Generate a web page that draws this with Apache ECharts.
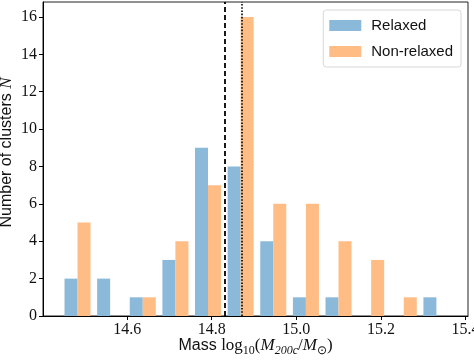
<!DOCTYPE html>
<html>
<head>
<meta charset="utf-8">
<script src="https://cdn.jsdelivr.net/npm/echarts@6/dist/echarts.min.js"></script>
<style>html,body{margin:0;padding:0;background:#fff}#c{width:474px;height:361px}</style>
</head>
<body>
<div id="c"></div>
<script>
const binCenters = [14.4826, 14.5598, 14.6369, 14.7141, 14.7912, 14.8684, 14.9455, 15.0227, 15.0998, 15.1770, 15.2541, 15.3313];
const relaxed    = [2, 2, 1, 3, 9, 8, 4, 1, 1, 0, 0, 1];
const nonRelaxed = [5, 0, 1, 4, 7, 16, 6, 6, 4, 3, 1, 0];
const xTicks = [14.6, 14.8, 15.0, 15.2, 15.4];
const yTicks = [0, 2, 4, 6, 8, 10, 12, 14, 16];
const dashedLineX = 14.8298;
const dottedLineX = 14.8669;

const serif = 'Liberation Serif';
const sans = 'Liberation Sans';

const chart = echarts.init(document.getElementById('c'), null, {renderer: 'canvas'});
chart.setOption({
  animation: false,
  grid: {left: 43, right: 6, top: 2, bottom: 45, containLabel: false, outerBoundsMode: 'none',
    show: true, borderColor: '#222', borderWidth: 1, backgroundColor: 'transparent'},
  legend: {
    right: 13, top: 10,
    orient: 'vertical',
    itemWidth: 32, itemHeight: 11, itemGap: 11,
    padding: [8, 8, 8, 6],
    borderColor: '#d8d8d8', borderWidth: 1, borderRadius: 3,
    textStyle: {fontFamily: sans, fontSize: 15, color: '#111', padding: [0, 0, 0, 5]},
    data: [{name: 'Relaxed', icon: 'rect'}, {name: 'Non-relaxed', icon: 'rect'}]
  },
  xAxis: {
    type: 'value', min: 14.401, max: 15.406,
    splitLine: {show: false},
    axisLine: {show: true, onZero: false, lineStyle: {color: '#000', width: 1}},
    axisTick: {show: true, length: 4, customValues: xTicks, lineStyle: {color: '#000'}},
    axisLabel: {customValues: xTicks, fontFamily: serif, fontSize: 16, color: '#111', margin: 6,
      formatter: v => v.toFixed(1)},
    name: '{s|Mass }{r|log}{sub|10}{r|(}{i|M}{subi|200c}{r|/}{i|M}{sub|⊙}{r|)}',
    nameLocation: 'middle', nameGap: 19, nameMoveOverlap: false,
    nameTextStyle: {
      rich: {
        s: {fontFamily: sans, fontSize: 16, color: '#111', lineHeight: 22},
        r: {fontFamily: serif, fontSize: 17, color: '#111', lineHeight: 22},
        i: {fontFamily: serif, fontSize: 17, fontStyle: 'italic', color: '#111', lineHeight: 22},
        sub: {fontFamily: serif, fontSize: 12, color: '#111', lineHeight: 12, verticalAlign: 'bottom'},
        subi: {fontFamily: serif, fontSize: 12, fontStyle: 'italic', color: '#111', lineHeight: 12, verticalAlign: 'bottom'}
      }
    }
  },
  yAxis: {
    type: 'value', min: 0, max: 16.8,
    splitLine: {show: false},
    axisLine: {show: true, lineStyle: {color: '#000', width: 1}},
    axisTick: {show: true, length: 4, customValues: yTicks, lineStyle: {color: '#000'}},
    axisLabel: {customValues: yTicks, fontFamily: serif, fontSize: 16, color: '#111', margin: 6},
    name: '{s|Number of clusters }{i|N}',
    nameLocation: 'middle', nameGap: 28, nameRotate: 90, nameMoveOverlap: false,
    nameTextStyle: {
      rich: {
        s: {fontFamily: sans, fontSize: 16, color: '#111', padding: [0, 0, 0, 13]},
        i: {fontFamily: serif, fontSize: 17, fontStyle: 'italic', color: '#111'}
      }
    }
  },
  series: [
    {
      name: 'Relaxed', type: 'bar', barWidth: 13, barGap: '0%',
      itemStyle: {color: '#8bb9da'},
      data: binCenters.map((x, i) => [x, relaxed[i]]),
      z: 2
    },
    {
      name: 'Non-relaxed', type: 'bar', barWidth: 13, barGap: '0%',
      itemStyle: {color: '#ffbc84'},
      data: binCenters.map((x, i) => [x, nonRelaxed[i]]),
      z: 2
    },
    {
      name: 'lines', type: 'line', data: [], silent: true,
      markLine: {
        silent: true, symbol: 'none', label: {show: false}, animation: false,
        data: [
          {xAxis: dashedLineX, lineStyle: {color: '#000', width: 1.8, type: [5, 3]}},
          {xAxis: dottedLineX, lineStyle: {color: '#000', width: 1.6, type: [1.6, 1.6]}}
        ]
      },
      z: 3
    }
  ]
});
</script>
</body>
</html>
